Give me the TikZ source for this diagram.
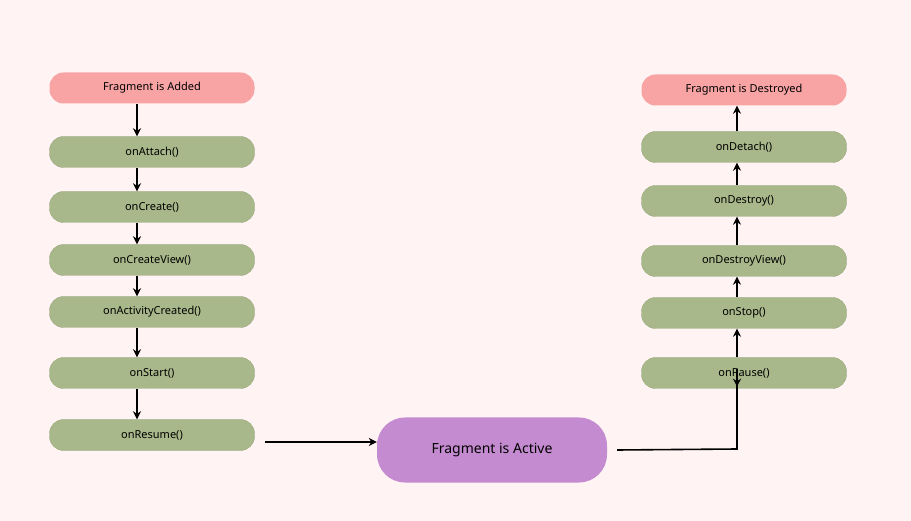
\documentclass[tikz,border=0pt]{standalone}
\usepackage{fontspec}
\setmainfont{Noto Sans}
\usetikzlibrary{arrows.meta}
\definecolor{bg}{HTML}{FFF4F3}
\definecolor{gr}{HTML}{A8B88A}
\definecolor{pk}{HTML}{F8A4A4}
\definecolor{pu}{HTML}{C48BD0}
\begin{document}
\begin{tikzpicture}[x=1pt,y=-1pt,
 box/.style={rounded corners=14pt,minimum width=205pt,minimum height=31pt,inner sep=0pt,font=\fontsize{11}{13}\selectfont},
 g/.style={box,fill=gr,draw=gr!80!black!40!gr},
 p/.style={box,fill=pk},
 ar/.style={-{Stealth[length=8pt,width=8pt]},line width=1.6pt}]
\fill[bg] (0,0) rectangle (911,521);
\useasboundingbox (0,0) rectangle (911,521);
\node[p] (a) at (152,88) {Fragment is Added};
\node[g] (l1) at (152,152) {onAttach()};
\node[g] (l2) at (152,207) {onCreate()};
\node[g] (l3) at (152,260) {onCreateView()};
\node[g] (l4) at (152,312) {onActivityCreated()};
\node[g] (l5) at (152,373) {onStart()};
\node[g] (l6) at (152,435) {onResume()};
\node[p] (d) at (744,90) {Fragment is Destroyed};
\node[g] (r1) at (744,147) {onDetach()};
\node[g] (r2) at (744,201) {onDestroy()};
\node[g] (r3) at (744,261) {onDestroyView()};
\node[g] (r4) at (744,313) {onStop()};
\node[g] (r5) at (744,373) {onPause()};
\node[box,fill=pu,minimum width=230pt,minimum height=65pt,rounded corners=28pt,font=\fontsize{14}{16}\selectfont] (act) at (492,450) {Fragment is Active};
\foreach \u/\v in {a/l1,l1/l2,l2/l3,l3/l4,l4/l5,l5/l6}
  \draw[ar] ([xshift=-15pt]\u.south) -- ([xshift=-15pt]\v.north);
\foreach \u/\v in {r5/r4,r4/r3,r3/r2,r2/r1,r1/d}
  \draw[ar] ([xshift=-7pt]\u.north) -- ([xshift=-7pt]\v.south);
\coordinate (s) at (265,442);
\draw[ar] (s) -- (act.west |- s);
\coordinate (c) at (737,449);
\draw[ar] ([xshift=10pt]act.east) -- (c) -- ([yshift=20pt]r5.south -| c) -- ([xshift=-7pt,yshift=2pt]r5.south);
\end{tikzpicture}
\end{document}
